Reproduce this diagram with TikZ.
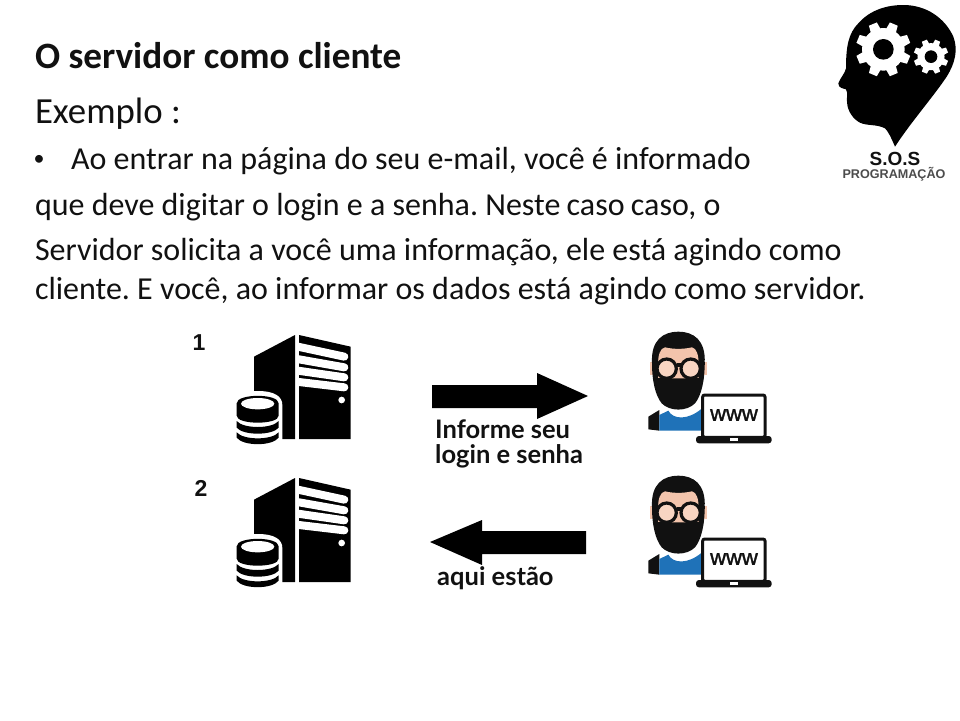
\documentclass[tikz,border=0pt]{standalone}
\usepackage{fontspec}
\setmainfont{Carlito}
\newfontfamily\labelfont{Lato}
\newfontfamily\iconfont{Liberation Sans}
\newfontfamily\wwwfont[FakeBold=1.5]{Liberation Sans}
\definecolor{ink}{HTML}{111111}
\definecolor{skin}{HTML}{F3C4AC}
\definecolor{lens}{HTML}{F8D5C2}
\definecolor{shirt}{HTML}{1F72B8}
\frenchspacing
\newcommand{\serverIcon}[2]{%
\begin{scope}[shift={(#1,#2)},scale=1/3]
 \fill[black] (222,95) -- (345,30) -- (345,342) -- (222,342) -- cycle;
 \fill[black] (357,30) -- (512,65) -- (512,342) -- (357,342) -- cycle;
 \begin{scope}
  \clip (357,30) rectangle (512,342);
  \foreach \ya/\yb in {65/95,103/127,138/157,172/187}{
   \draw[white,line width=8pt,line cap=round] (340,\ya-3) -- (493,\yb);
  }
 \end{scope}
 \fill[white] (485,225) circle (10);
 \fill[white] (233,198) .. controls (285,198) and (307,215) .. (307,240) -- (307,365) -- (158,365) -- (158,240) .. controls (158,215) and (180,198) .. (233,198) -- cycle;
 \fill[black] (170,235) .. controls (170,205) and (296,205) .. (296,235) -- (296,272) .. controls (296,300) and (170,300) .. (170,272) -- cycle;
 \fill[white] (233,236) ellipse (50 and 17);
 \fill[black] (170,288) .. controls (190,312) and (276,312) .. (296,288) -- (296,308) .. controls (276,332) and (190,332) .. (170,308) -- cycle;
 \fill[black] (170,322) .. controls (190,346) and (276,346) .. (296,322) -- (296,338) .. controls (276,364) and (190,364) .. (170,338) -- cycle;
\end{scope}}
\newcommand{\personIcon}[2]{%
\begin{scope}[shift={(#1,#2)},scale=1/3]
 \fill[ink] (55,290) -- (88,270) -- (88,332) -- (55,328) -- cycle;
 \fill[shirt] (88,285) -- (115,272) .. controls (130,300) and (175,300) .. (215,266) -- (218,332) -- (88,332) -- cycle;
 \fill[skin] (60,125) rectangle (72,165);
 \fill[skin] (220,125) rectangle (232,165);
 \fill[ink] (66,130) .. controls (62,60) and (100,35) .. (145,35) .. controls (190,35) and (228,60) .. (224,130)
   .. controls (224,180) and (215,225) .. (195,250) .. controls (170,275) and (120,275) .. (95,250) .. controls (75,225) and (66,180) .. (66,130) -- cycle;
 \fill[skin] (84,135) .. controls (84,105) and (90,85) .. (105,82) .. controls (130,88) and (160,88) .. (186,82) .. controls (200,85) and (206,105) .. (206,135) -- (206,175) -- (84,175) -- cycle;
 \fill[ink] (70,178) -- (95,172) .. controls (115,185) and (125,188) .. (145,178) .. controls (165,188) and (175,185) .. (195,172) -- (220,178) -- (200,215) -- (90,215) -- cycle;
 \filldraw[fill=lens,draw=ink,line width=3.2pt] (110,146) circle (29);
 \filldraw[fill=lens,draw=ink,line width=3.2pt] (182,146) circle (29);
 \draw[ink,line width=3.2pt] (66,130) -- (82,130) (140,135) -- (152,135) (210,130) -- (225,130);
 \filldraw[fill=white,draw=ink,line width=3pt,rounded corners=2pt] (218,225) rectangle (405,352);
 \fill[ink,rounded corners=3pt] (198,348) rectangle (425,370);
 \fill[white] (300,354) rectangle (324,362);
\end{scope}}
\newcommand{\gearShape}[4]{% x, y, outer radius, tooth half-width
 \fill[white] (#1,#2) circle (#3*0.78);
 \foreach \a in {0,45,...,315}{
  \fill[white,shift={(#1,#2)},rotate=\a+22.5] (#3*0.7,-#4) -- (#3,-#4*0.8) -- (#3,#4*0.8) -- (#3*0.7,#4) -- cycle;
 }}
\begin{document}
\begin{tikzpicture}[x=1pt,y=-1pt,
  body/.style={anchor=base west,inner sep=0pt,outer sep=0pt,text=ink,font=\fontsize{32}{34}\selectfont},
  title/.style={body,font=\fontsize{37.2}{39}\selectfont\bfseries},
  head/.style={body,font=\fontsize{36.8}{39}\selectfont},
  num/.style={anchor=center,inner sep=0pt,text=ink,font=\iconfont\fontsize{23}{24}\selectfont\bfseries},
  caption/.style={anchor=base west,inner sep=0pt,text=ink,font=\labelfont\fontsize{25.5}{27}\selectfont\bfseries},
  wwwtext/.style={anchor=center,inner sep=0pt,text=ink,font=\wwwfont\fontsize{22}{23}\selectfont},
  bigarrow/.style={fill=black,draw=none}]
\useasboundingbox[fill=white] (0,0) rectangle (960,720);

\node[title] (t1) at (35,68.5) {O servidor como cliente};
\node[head] (t2) at (35,123) {Exemplo :};
\node[anchor=base,inner sep=0pt,text=ink,font=\fontsize{22}{24}\selectfont] (bul) at (39,165) {•};
\node[body] (l1) at (71,169) {Ao entrar na página do seu e-mail, você é informado};
\node[body] (l2) at (35,215) {que deve digitar o login e a senha. Neste\kern-1pt{} caso\kern-1pt{} caso, o};
\node[body] (l3) at (35,260) {Servidor solicita a você uma informação, ele está agindo como};
\node[body] (l4) at (35,299) {cliente. E você, ao informar os dados está agindo como servidor.};

% logo
\begin{scope}[shift={(820,0)},scale=1/3]
 \fill[black] (225,440) .. controls (212,410) and (205,395) .. (195,385) .. controls (170,372) and (140,378) .. (120,368)
  .. controls (100,358) and (85,335) .. (82,315) .. controls (78,295) and (85,280) .. (78,268) .. controls (70,265) and (55,265) .. (55,250)
  .. controls (60,235) and (75,220) .. (78,205) .. controls (78,140) and (85,100) .. (115,70) .. controls (150,30) and (200,15) .. (250,15)
  .. controls (320,15) and (375,55) .. (400,110) .. controls (415,150) and (405,190) .. (380,230) .. controls (340,290) and (270,370) .. (225,440) -- cycle;
 \gearShape{190}{148}{82}{16}
 \fill[black] (190,148) circle (31);
 \gearShape{333}{170}{52}{10}
 \fill[black] (333,170) circle (19);
\end{scope}
\node[anchor=center,inner sep=0pt,text=ink,font=\iconfont\fontsize{19}{20}\selectfont\bfseries] (sos) at (895,159) {S.O.S};
\node[anchor=center,inner sep=0pt,text=black!70,font=\iconfont\fontsize{12.6}{13}\selectfont\bfseries] (prog) at (894,174) {PROGRAMAÇÃO};

% row 1
\node[num] (n1) at (199,343) {1};
\serverIcon{180}{325}
\fill[bigarrow] (432,385) -- (537,385) -- (537,373) -- (588,396) -- (537,419) -- (537,408) -- (432,408) -- cycle;
\node[caption] (c1) at (435,438) {Informe seu};
\node[caption] (c2) at (435,463) {login e senha};
\personIcon{630}{320}
\node[wwwtext] (w1) at (734,415) {www};

% row 2
\node[num] (n2) at (201,488) {2};
\serverIcon{180}{468}
\fill[bigarrow] (586,531) -- (482,531) -- (482,520) -- (430,542) -- (482,565) -- (482,554) -- (586,554) -- cycle;
\node[caption] (c3) at (437,585) {aqui estão};
\personIcon{630}{464}
\node[wwwtext] (w2) at (734,559) {www};
\end{tikzpicture}
\end{document}
